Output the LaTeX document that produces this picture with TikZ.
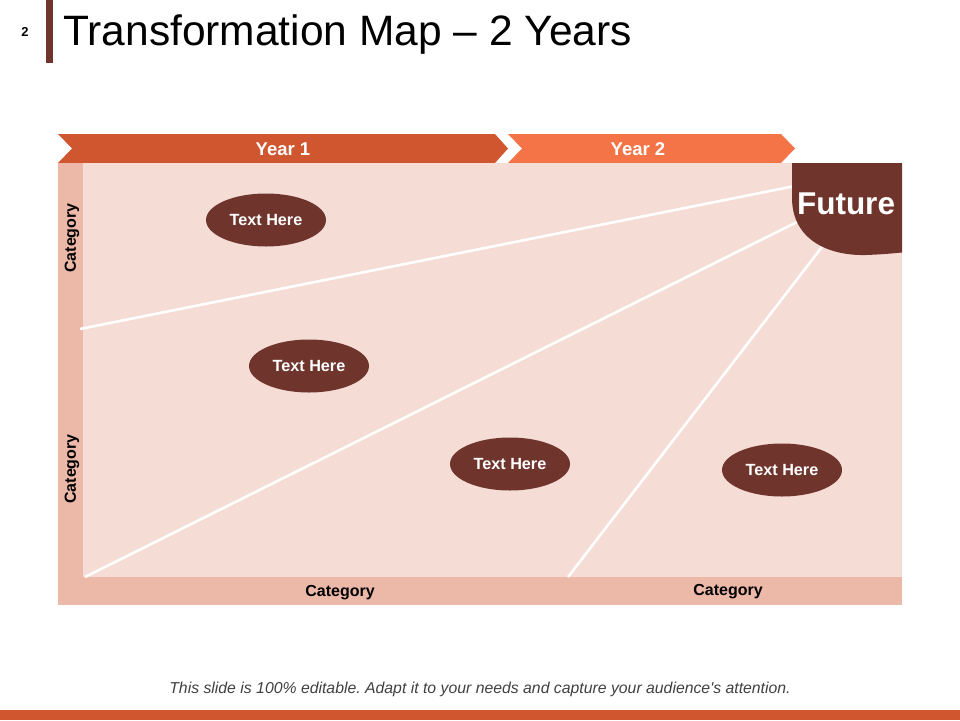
\documentclass[tikz,border=0pt]{standalone}
\usepackage{fontspec}
\setmainfont{Liberation Sans}
\usetikzlibrary{shapes.geometric}
\frenchspacing

\definecolor{rust}{HTML}{D0562F}
\definecolor{coral}{HTML}{F47347}
\definecolor{blush}{HTML}{F5DDD6}
\definecolor{rose}{HTML}{ECB8A8}
\definecolor{maroon}{HTML}{6F352D}
\definecolor{footgray}{HTML}{404040}

\tikzset{
  bubble/.style={ellipse, fill=maroon, minimum width=120pt, minimum height=53pt, inner sep=0pt, text=white, font=\fontsize{16.2}{19}\selectfont\bfseries},
  yearlabel/.style={text=white, inner sep=0pt, font=\fontsize{18.5}{21}\selectfont\bfseries},
  catlabel/.style={text=black, inner sep=0pt, font=\fontsize{16}{19}\selectfont\bfseries},
  ray/.style={draw=white, line width=2.6pt}
}

\begin{document}
\begin{tikzpicture}[x=1pt,y=-1pt]
\useasboundingbox (0,0) rectangle (960,720);

% header
\fill[maroon] (46,0) rectangle (53,63);
\node[inner sep=0pt, font=\fontsize{13}{15}\selectfont\bfseries] (num) at (25,32) {2};
\node[anchor=base west, inner sep=0pt, font=\fontsize{42.5}{48}\selectfont] (title) at (63,45) {Transformation Map – 2 Years};

% year chevrons
\fill[rust] (58,134) -- (495,134) -- (508,148.5) -- (495,163) -- (58,163) -- (72,148.5) -- cycle;
\fill[coral] (508,134) -- (781,134) -- (795,148.5) -- (781,163) -- (508,163) -- (522,148.5) -- cycle;
\node[yearlabel] (y1) at (283,149) {Year 1};
\node[yearlabel] (y2) at (638,149) {Year 2};

% map area
\fill[blush] (58,163) rectangle (902,605);
\fill[rose] (58,163) rectangle (83,605);
\fill[rose] (58,577) rectangle (902,605);

\node[catlabel, rotate=90] (c1) at (72,238) {Category};
\node[catlabel, rotate=90] (c2) at (72,469) {Category};
\node[catlabel] (c3) at (340,593) {Category};
\node[catlabel] (c4) at (728,592) {Category};

% rays to the future
\coordinate (s1) at (80,329);
\coordinate (s2) at (85,577);
\coordinate (s3) at (568,577);
\coordinate (e1) at (800,185);
\coordinate (e2) at (805,218);
\coordinate (e3) at (825,243);
\draw[ray] (s1) -- (e1);
\draw[ray] (s2) -- (e2);
\draw[ray] (s3) -- (e3);

\fill[maroon] (792,163) -- (792,198) .. controls (792,238) and (826,256) .. (866,255) .. controls (880,254.5) and (892,253.5) .. (902,252.5) -- (902,163) -- cycle;
\node[text=white, inner sep=0pt, font=\fontsize{31.5}{36}\selectfont\bfseries] (future) at (846,204) {Future};

% items
\node[bubble] (t1) at (266,220) {Text Here};
\node[bubble] (t2) at (309,366) {Text Here};
\node[bubble] (t3) at (510,464) {Text Here};
\node[bubble] (t4) at (782,470) {Text Here};

% footer
\node[anchor=base, inner sep=0pt, text=footgray, font=\fontsize{15.8}{18}\selectfont\itshape] (foot) at (480,693) {This slide is 100\% editable. Adapt it to your needs and capture your audience\textquotesingle s attention.};
\fill[rust] (0,710) rectangle (960,720);

\end{tikzpicture}
\end{document}
